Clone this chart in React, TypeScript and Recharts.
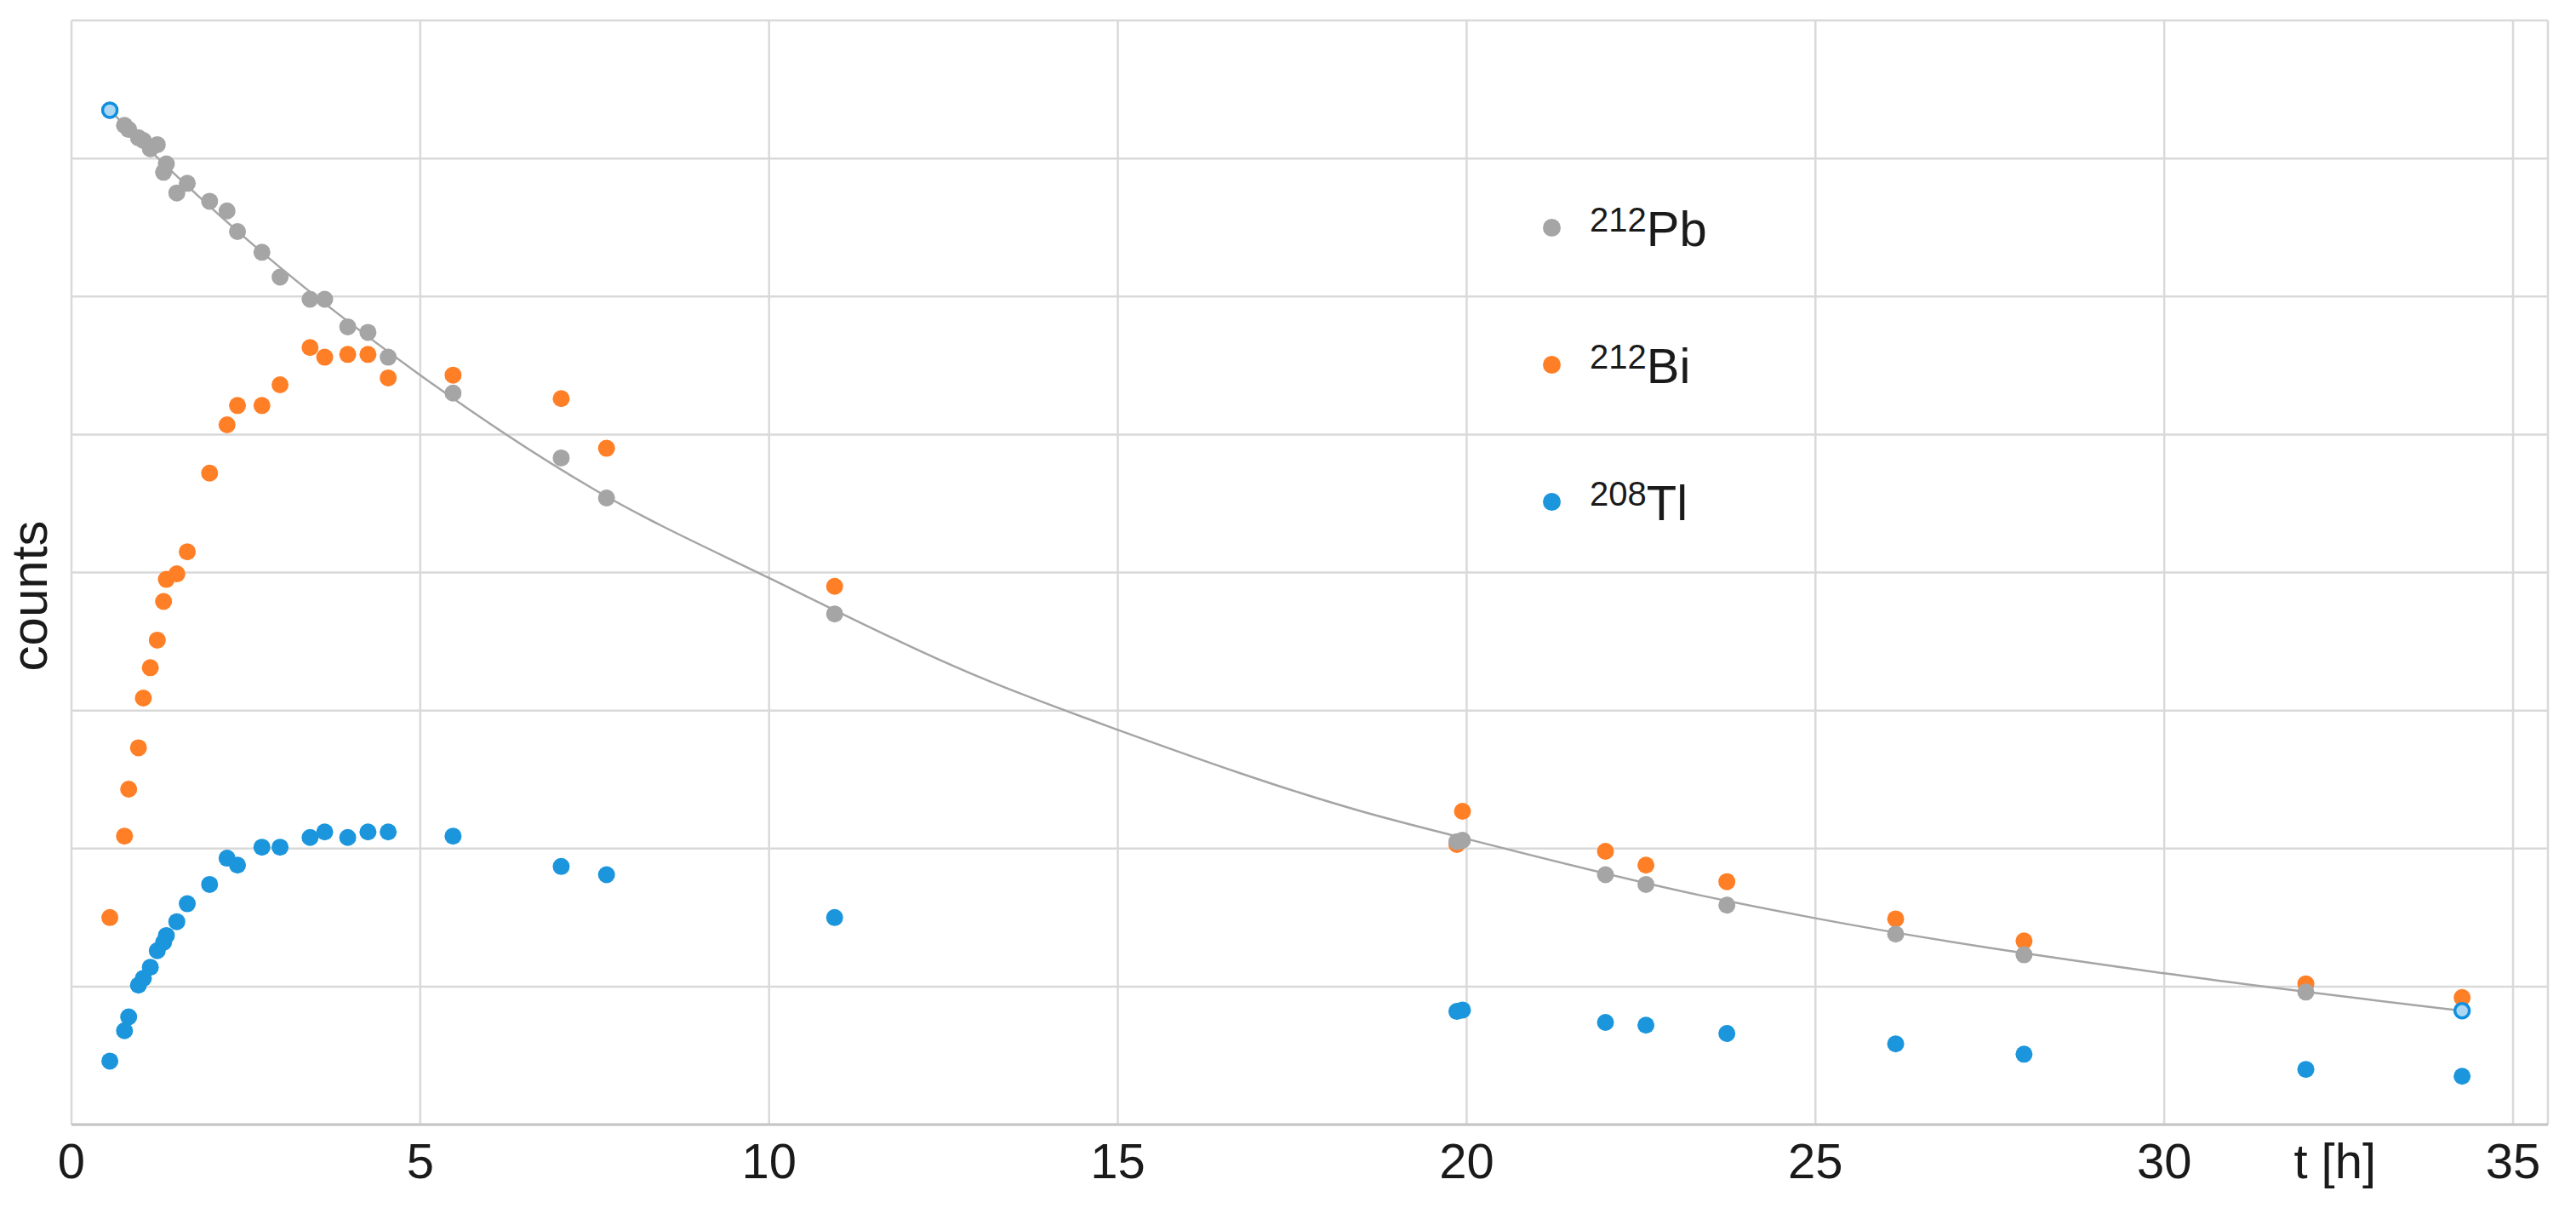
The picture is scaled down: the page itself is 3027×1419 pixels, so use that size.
import { ComposedChart, Scatter, Line, XAxis, YAxis, CartesianGrid, Legend } from 'recharts'

// measurement times in hours, shared by the three isotopes
const hours = [
  0.55, 0.76, 0.82, 0.96, 1.03, 1.13, 1.23, 1.32, 1.36, 1.51, 1.66, 1.98, 2.23, 2.38, 2.73, 2.99, 3.42,
  3.63, 3.96, 4.25, 4.54, 5.47, 7.02, 7.67, 10.94, 19.86, 19.94, 21.99, 22.57, 23.73, 26.15, 27.99,
  32.03, 34.27,
]
const pb212 = [
  7.35, 7.24, 7.21, 7.15, 7.13, 7.07, 7.1, 6.9, 6.96, 6.75, 6.82, 6.69, 6.62, 6.47, 6.32, 6.14, 5.98,
  5.98, 5.78, 5.74, 5.56, 5.3, 4.83, 4.54, 3.7, 2.05, 2.06, 1.81, 1.74, 1.59, 1.38, 1.23, 0.96, 0.825,
]
const bi212 = [
  1.5, 2.09, 2.43, 2.73, 3.09, 3.31, 3.51, 3.79, 3.95, 3.99, 4.15, 4.72, 5.07, 5.21, 5.21, 5.36, 5.63,
  5.56, 5.58, 5.58, 5.41, 5.43, 5.26, 4.9, 3.9, 2.03, 2.27, 1.98, 1.88, 1.76, 1.49, 1.33, 1.02, 0.92,
]
const tl208 = [
  0.46, 0.68, 0.78, 1.01, 1.06, 1.14, 1.26, 1.32, 1.37, 1.47, 1.6, 1.74, 1.93, 1.88, 2.01, 2.01, 2.08,
  2.12, 2.08, 2.12, 2.12, 2.09, 1.87, 1.81, 1.5, 0.82, 0.83, 0.74, 0.72, 0.66, 0.585, 0.51, 0.4, 0.35,
]

// Pb-212 decay fit
const fitHours = [0.55, 1, 2.5, 5, 7.5, 10, 13.12, 15, 18.49, 20, 23.36, 25, 30, 34.27]
const fitCounts = [7.35, 7.12, 6.42, 5.43, 4.6, 3.96, 3.22, 2.86, 2.27, 2.07, 1.66, 1.495, 1.096, 0.825]

const xTicks = [0, 5, 10, 15, 20, 25, 30, 35]
const yTicks = [0, 1, 2, 3, 4, 5, 6, 7, 8]

const GRAY = '#a5a5a5'
const ORANGE = '#ff7f27'
const BLUE = '#1b96dc'
const FONT = '"Liberation Sans", Arial, sans-serif'

const toPoints = (values: number[]) => hours.map((t, i) => ({ t, v: values[i] }))
const pbData = toPoints(pb212)
const biData = toPoints(bi212)
const tlData = toPoints(tl208)
const fitData = fitHours.map((t, i) => ({ t, v: fitCounts[i] }))

const isotopes = [
  { mass: '212', element: 'Pb', color: GRAY },
  { mass: '212', element: 'Bi', color: ORANGE },
  { mass: '208', element: 'Tl', color: BLUE },
]

const dotShape = (color: string) => (props: any) => (
  <circle cx={props.cx} cy={props.cy} r={10} fill={color} />
)

function renderFitEnds(props: any) {
  const { cx, cy, index } = props
  if (index !== 0 && index !== fitData.length - 1) return <g key={`fit-${index}`} />
  return (
    <circle key={`fit-${index}`} cx={cx} cy={cy} r={8.5} fill="#add6f3" stroke="#0f8fe0" strokeWidth={3.5} />
  )
}

function IsotopeLegend() {
  return (
    <div style={{ fontFamily: FONT, color: '#1a1a1a' }}>
      {isotopes.map((iso) => (
        <div key={iso.element} style={{ display: 'flex', alignItems: 'center', height: 161 }}>
          <span
            style={{ width: 21, height: 21, borderRadius: '50%', background: iso.color, marginRight: 34 }}
          />
          <span style={{ fontSize: 58, lineHeight: 1, whiteSpace: 'nowrap' }}>
            <span style={{ fontSize: 40, verticalAlign: 17 }}>{iso.mass}</span>
            {iso.element}
          </span>
        </div>
      ))}
    </div>
  )
}

function TimeLabel({ viewBox }: any) {
  return (
    <text x={viewBox.x + viewBox.width * 0.914} y={viewBox.y + 63} textAnchor="middle" fontSize={58} fill="#1a1a1a" fontFamily={FONT}>
      t [h]
    </text>
  )
}

export default function App() {
  return (
    <div style={{ position: 'relative', width: 3011, height: 1400 }}>
      <ComposedChart width={3011} height={1400} margin={{ top: 16, right: 25, bottom: 7, left: 75 }} style={{ fontFamily: FONT }}>
        <CartesianGrid stroke="#d9d9d9" strokeWidth={2.5} />
        <XAxis
          type="number"
          dataKey="t"
          domain={[0, 35.5]}
          ticks={xTicks}
          interval={0}
          tick={{ fontSize: 58, fill: '#1a1a1a' }}
          tickLine={false}
          tickMargin={16}
          axisLine={{ stroke: '#c4c4c4', strokeWidth: 3 }}
          height={80}
          label={<TimeLabel />}
        />
        <YAxis
          type="number"
          domain={[0, 8]}
          ticks={yTicks}
          interval={0}
          tickFormatter={() => ''}
          tickLine={false}
          axisLine={false}
          width={1}
        />
        <Legend
          layout="vertical"
          align="center"
          verticalAlign="middle"
          wrapperStyle={{ left: 1805, top: 179, width: 400 }}
          content={<IsotopeLegend />}
        />
        <Scatter name="208Tl" data={tlData} dataKey="v" fill={BLUE} shape={dotShape(BLUE)} isAnimationActive={false} />
        <Scatter name="212Bi" data={biData} dataKey="v" fill={ORANGE} shape={dotShape(ORANGE)} isAnimationActive={false} />
        <Scatter name="212Pb" data={pbData} dataKey="v" fill={GRAY} shape={dotShape(GRAY)} isAnimationActive={false} />
        <Line
          data={fitData}
          dataKey="v"
          type="monotone"
          stroke={GRAY}
          strokeWidth={2.5}
          dot={renderFitEnds}
          activeDot={false}
          legendType="none"
          isAnimationActive={false}
        />
      </ComposedChart>
      <div
        style={{
          position: 'absolute',
          left: 0,
          top: 0,
          transform: 'translate(27px, 692px) rotate(-90deg) translate(-50%, -50%)',
          transformOrigin: '0 0',
          fontFamily: FONT,
          fontSize: 60,
          lineHeight: 1,
          color: '#1a1a1a',
          whiteSpace: 'nowrap',
        }}
      >
        counts
      </div>
    </div>
  )
}
